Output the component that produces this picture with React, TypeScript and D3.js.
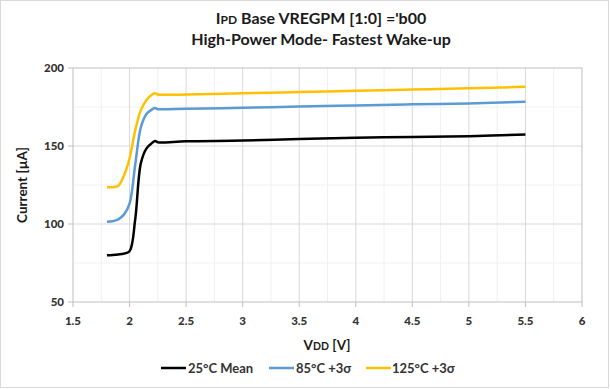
import React from "react";
import * as d3 from "d3";

const vdd = [1.8, 1.85, 1.9, 1.95, 2.0, 2.05, 2.1, 2.15, 2.2, 2.225, 2.25, 2.3, 2.5, 3, 3.5, 4, 4.5, 5, 5.5];
const mean25 = [80, 80.2, 80.5, 81, 82.5, 103, 139, 148.5, 152, 153.2, 152.4, 152.3, 153, 153.5, 154.5, 155.3, 155.8, 156.3, 157.3];
const sigma85 = [101.5, 101.8, 103, 106, 113, 138, 162, 170.5, 173.5, 174.3, 173.6, 173.5, 173.8, 174.5, 175.3, 176, 176.7, 177.3, 178.3];
const sigma125 = [123.5, 123.6, 124.5, 131, 142, 160, 173, 179.5, 183, 183.8, 183, 182.8, 183, 183.8, 184.6, 185.4, 186.2, 187, 188];

const seriesNames = ["25°C Mean", "85°C +3σ", "125°C +3σ"];
const seriesColors = ["#000000", "#5b9bd5", "#ffc000"];
const xTicks = [1.5, 2, 2.5, 3, 3.5, 4, 4.5, 5, 5.5, 6];
const yTicks = [50, 100, 150, 200];

const W = 610, H = 389;
const L = 73, R = 582, T = 68, B = 302;
const font = "Lato, 'Open Sans', sans-serif";

export default function App() {
  const x = d3.scaleLinear().domain([1.5, 6]).range([L, R]);
  const y = d3.scaleLinear().domain([50, 200]).range([B, T]);
  const series = [mean25, sigma85, sigma125];
  const line = d3
    .line<number>()
    .x((_, i) => x(vdd[i]))
    .y((d) => y(d))
    .curve(d3.curveCatmullRom.alpha(0.5));
  const minorX = d3.range(1.75, 6, 0.5);
  const minorY = d3.range(75, 200, 50);
  const legendX = [161, 269, 366];
  const legendText = [188, 296, 392];
  return (
    <svg width={W} height={H} style={{ position: "absolute", left: 0, top: 0 }} fontFamily={font}>
      <rect x={0} y={0} width={W} height={H} fill="#fff" />
      <rect x={0.5} y={0.5} width={W - 2} height={H - 2} fill="none" stroke="#d9d9d9" />
      {minorX.map((v) => (
        <line key={"mx" + v} x1={x(v)} x2={x(v)} y1={T} y2={B} stroke="#f0f0f0" />
      ))}
      {minorY.map((v) => (
        <line key={"my" + v} x1={L} x2={R} y1={y(v)} y2={y(v)} stroke="#f0f0f0" />
      ))}
      {xTicks.slice(1, -1).map((v) => (
        <line key={"gx" + v} x1={x(v)} x2={x(v)} y1={T} y2={B} stroke="#d9d9d9" />
      ))}
      {yTicks.slice(1, -1).map((v) => (
        <line key={"gy" + v} x1={L} x2={R} y1={y(v)} y2={y(v)} stroke="#d9d9d9" />
      ))}
      <line x1={L} x2={R} y1={T} y2={T} stroke="#bfbfbf" />
      <line x1={R} x2={R} y1={T} y2={B} stroke="#bfbfbf" />
      <line x1={L} x2={L} y1={T} y2={B} stroke="#bfbfbf" />
      <line x1={L} x2={R} y1={B} y2={B} stroke="#bfbfbf" />
      {yTicks.map((v) => (
        <line key={"ty" + v} x1={L - 5} x2={L} y1={y(v)} y2={y(v)} stroke="#bfbfbf" />
      ))}
      {xTicks.map((v) => (
        <line key={"tx" + v} x1={x(v)} x2={x(v)} y1={B} y2={B + 5} stroke="#bfbfbf" />
      ))}
      {series.map((s, i) => (
        <path key={i} d={line(s) || ""} fill="none" stroke={seriesColors[i]} strokeWidth={2.5} strokeLinejoin="round" />
      ))}
      {yTicks.map((v) => (
        <text key={"ly" + v} x={L - 9} y={y(v)} dy="0.35em" textAnchor="end" fontSize={11.5} fontWeight="900" fill="#333">
          {v}
        </text>
      ))}
      {xTicks.map((v) => (
        <text key={"lx" + v} x={x(v)} y={B + 19} dy="0.35em" textAnchor="middle" fontSize={11.5} fontWeight="900" fill="#333">
          {v}
        </text>
      ))}
      <text x={321} y={24} textAnchor="middle" fontSize={16} fontWeight="bold" fill="#1a1a1a">
        I<tspan fontSize={12}>PD</tspan> Base VREGPM [1:0] ='b00
      </text>
      <text x={321} y={45} textAnchor="middle" fontSize={16} fontWeight="bold" fill="#1a1a1a">
        High-Power Mode- Fastest Wake-up
      </text>
      <text x={327} y={345} dy="0.35em" textAnchor="middle" fontSize={13.5} fontWeight="bold" fill="#1a1a1a">
        V<tspan fontSize={10.5}>DD</tspan> [V]
      </text>
      <text
        transform={`translate(22,185) rotate(-90)`}
        dy="0.35em"
        textAnchor="middle"
        fontSize={13.5}
        fontWeight="bold"
        fill="#1a1a1a"
      >
        Current [µA]
      </text>
      {seriesNames.map((n, i) => (
        <g key={n}>
          <line x1={legendX[i]} x2={legendX[i] + 25} y1={368} y2={368} stroke={seriesColors[i]} strokeWidth={2.5} />
          <text x={legendText[i]} y={368} dy="0.35em" fontSize={13} fontWeight="bold" fill="#333">
            {n}
          </text>
        </g>
      ))}
    </svg>
  );
}
